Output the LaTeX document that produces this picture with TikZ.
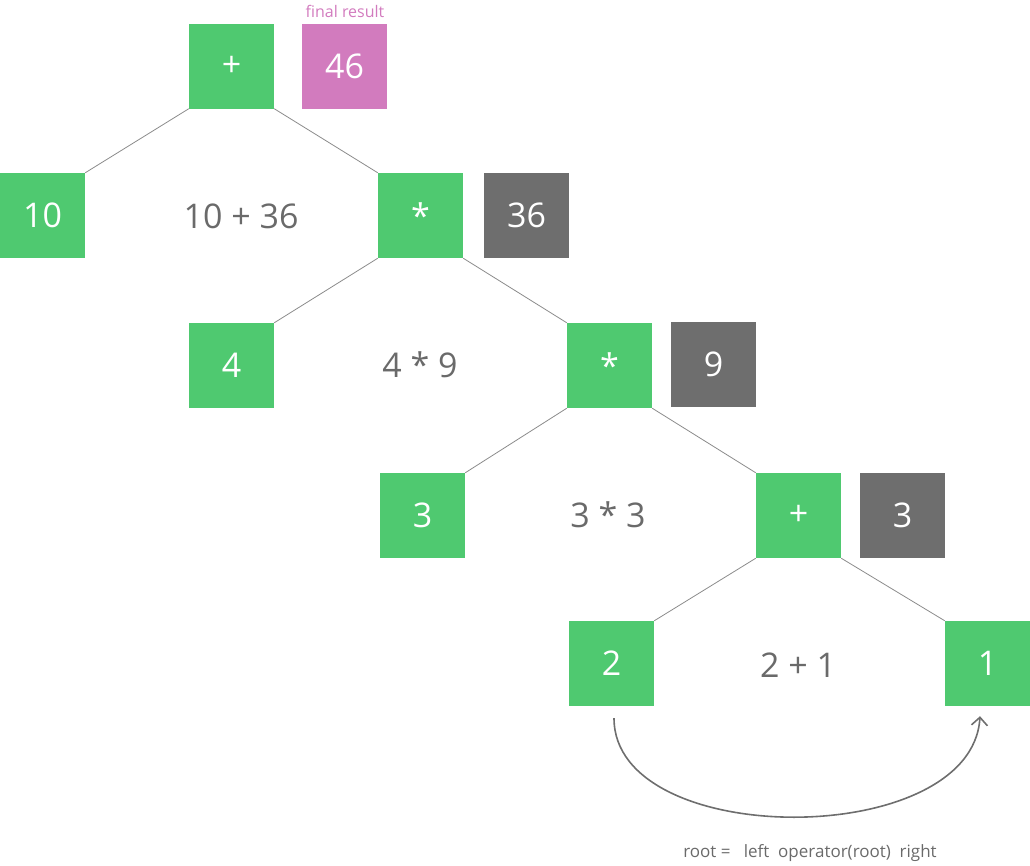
\documentclass[tikz,border=0pt]{standalone}
\usepackage{fontspec}
\setmainfont{Open Sans}
\usetikzlibrary{arrows.meta,calc}
\definecolor{grn}{HTML}{4FC970}
\definecolor{pnk}{HTML}{D27BBE}
\definecolor{gry}{HTML}{6E6E6E}
\definecolor{txt}{HTML}{6A6A6A}
\begin{document}
\begin{tikzpicture}[x=1pt,y=-1pt,
  box/.style={minimum width=85pt,minimum height=85pt,inner sep=0pt,text=white,font=\fontsize{34}{40}\selectfont},
  gbox/.style={box,fill=grn},
  vbox/.style={box,fill=gry},
  rbox/.style={box,fill=pnk},
  expr/.style={text=txt,font=\fontsize{34}{40}\selectfont},
  edge/.style={draw=gry!80,line width=0.8pt}]
\useasboundingbox (0,0) rectangle (1030,865);
\node[gbox] (r) at (231.5,66) {+};
\node[rbox] (res) at (344.5,66) {46};
\node[text=pnk,font=\fontsize{16}{18}\selectfont] (fr) at (345,11) {final result};
\node[gbox] (n10) at (42.5,215.5) {10};
\node[expr] (e1) at (241,216) {10 + 36};
\node[gbox] (m1) at (420.5,215.5) {*};
\node[vbox] (v36) at (526.5,215.5) {36};
\node[gbox] (n4) at (231.5,365.5) {4};
\node[expr] (e2) at (420,365) {4 * 9};
\node[gbox] (m2) at (609.5,365.5) {*};
\node[vbox] (v9) at (713.5,364.5) {9};
\node[gbox] (n3) at (422.5,515.5) {3};
\node[expr] (e3) at (608,515) {3 * 3};
\node[gbox] (p2) at (798.5,515.5) {+};
\node[vbox] (v3) at (902.5,515.5) {3};
\node[gbox] (n2) at (611.5,663.5) {2};
\node[expr] (e4) at (798,665) {2 + 1};
\node[gbox] (n1) at (987.5,663.5) {1};
\node[text=txt,font=\fontsize{17}{19}\selectfont] (lbl) at (810,853) {root =\ \ \ left\ \ operator(root)\ \ right};
\draw[edge] (r.south west) -- (n10.north east);
\draw[edge] (r.south east) -- (m1.north west);
\draw[edge] (m1.south west) -- (n4.north east);
\draw[edge] (m1.south east) -- (m2.north west);
\draw[edge] (m2.south west) -- (n3.north east);
\draw[edge] (m2.south east) -- (p2.north west);
\draw[edge] (p2.south west) -- (n2.north east);
\draw[edge] (p2.south east) -- (n1.north west);
\coordinate (a0) at ($(n2.south)+(2.5,12)$);
\coordinate (a1) at ($(n1.south)+(-7.5,10)$);
\draw[draw=gry,line width=1.6pt,-{Straight Barb[length=8pt,width=16pt]}] (a0) .. controls ($(a0)+(0,132)$) and ($(a1)+(-8,134)$) .. (a1);
\end{tikzpicture}
\end{document}
